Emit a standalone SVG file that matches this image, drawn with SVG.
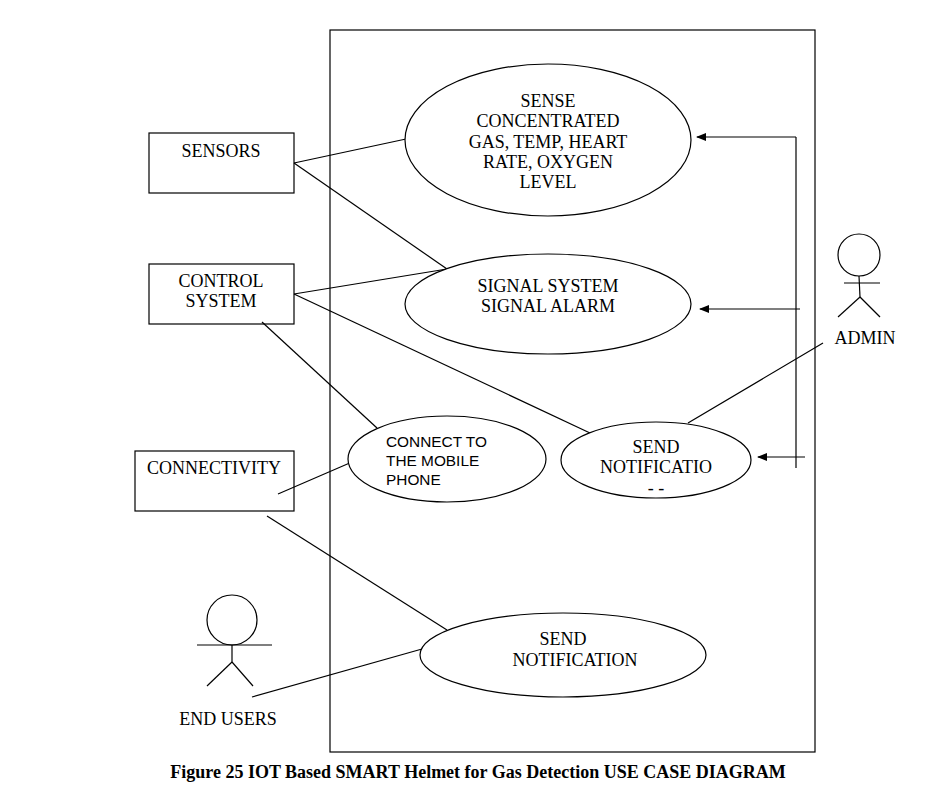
<svg xmlns="http://www.w3.org/2000/svg" width="952" height="808" viewBox="0 0 952 808">
<defs>
<style>
.s{fill:none;stroke:#000;stroke-width:1.2}
.e{fill:#fff;stroke:#000;stroke-width:1.2}
text{font-family:"Liberation Serif",serif;font-size:18px;fill:#000;text-anchor:middle}
.a{font-family:"Liberation Sans",sans-serif;font-size:15.4px;text-anchor:start}
</style>
<marker id="ar" markerWidth="10" markerHeight="8" refX="9" refY="4" orient="auto" markerUnits="userSpaceOnUse"><path d="M0,0 L10,4 L0,8 Z" fill="#000"/></marker>
</defs>
<rect x="0" y="0" width="952" height="808" fill="#fff"/>
<rect class="s" x="330" y="30" width="485" height="722"/>
<g id="connectors">
<line class="s" x1="294" y1="163" x2="406" y2="139"/>
<line class="s" x1="294" y1="163" x2="447" y2="269"/>
<line class="s" x1="294" y1="294" x2="447" y2="269"/>
<line class="s" x1="294" y1="294" x2="590" y2="433"/>
<line class="s" x1="262" y1="322" x2="377" y2="428"/>
<line class="s" x1="278" y1="494" x2="352" y2="462"/>
<line class="s" x1="267" y1="516" x2="447" y2="630"/>
<line class="s" x1="252" y1="697" x2="422" y2="649"/>
<line class="s" x1="823" y1="343" x2="688" y2="423"/>
<line class="s" x1="796" y1="137" x2="796" y2="468"/>
<line class="s" x1="796" y1="137" x2="697" y2="137" marker-end="url(#ar)"/>
<line class="s" x1="800" y1="309" x2="700" y2="309" marker-end="url(#ar)"/>
<line class="s" x1="805" y1="457" x2="758" y2="457" marker-end="url(#ar)"/>
</g>
<g id="sensors"><rect class="s" x="149" y="133" width="145" height="60"/><text x="221" y="157">SENSORS</text></g>
<g id="control"><rect class="s" x="149" y="264" width="145" height="60"/><text x="221" y="287">CONTROL</text><text x="221" y="307">SYSTEM</text></g>
<g id="connectivity"><rect class="s" x="135" y="451" width="159" height="60"/><text x="214" y="474">CONNECTIVITY</text></g>
<g id="uc1"><ellipse class="e" cx="548" cy="140" rx="143" ry="76"/><text x="548" y="107">SENSE</text><text x="548" y="127">CONCENTRATED</text><text x="548" y="148">GAS, TEMP, HEART</text><text x="548" y="168">RATE, OXYGEN</text><text x="548" y="188">LEVEL</text></g>
<g id="uc2"><ellipse class="e" cx="548" cy="304" rx="143" ry="50"/><text x="548" y="292">SIGNAL SYSTEM</text><text x="548" y="312">SIGNAL ALARM</text></g>
<g id="uc3"><ellipse class="e" cx="447" cy="459" rx="99" ry="43"/><text class="a" x="386" y="447">CONNECT TO</text><text class="a" x="386" y="466">THE MOBILE</text><text class="a" x="386" y="485">PHONE</text></g>
<g id="uc4"><ellipse class="e" cx="656" cy="460" rx="95" ry="38"/><text x="656" y="453">SEND</text><text x="656" y="473">NOTIFICATIO</text><text x="656" y="494" font-size="6">- -</text></g>
<g id="uc5"><ellipse class="e" cx="563" cy="655" rx="143" ry="42"/><text x="563" y="645">SEND</text><text x="575" y="666">NOTIFICATION</text></g>
<g id="admin"><circle class="s" cx="859" cy="255" r="21"/><line class="s" x1="844" y1="283" x2="880" y2="283"/><line class="s" x1="859" y1="276" x2="860" y2="297"/><line class="s" x1="860" y1="297" x2="838" y2="317"/><line class="s" x1="860" y1="297" x2="880" y2="317"/><text x="865" y="344">ADMIN</text></g>
<g id="endusers"><circle class="s" cx="232" cy="620" r="25"/><line class="s" x1="197" y1="645" x2="272" y2="645"/><line class="s" x1="232" y1="645" x2="232" y2="662"/><line class="s" x1="232" y1="662" x2="207" y2="686"/><line class="s" x1="232" y1="662" x2="253" y2="686"/><text x="228" y="725">END USERS</text></g>
<text x="478" y="778" font-weight="bold" font-size="20.3px">Figure 25 IOT Based SMART Helmet for Gas Detection USE CASE DIAGRAM</text>
</svg>
